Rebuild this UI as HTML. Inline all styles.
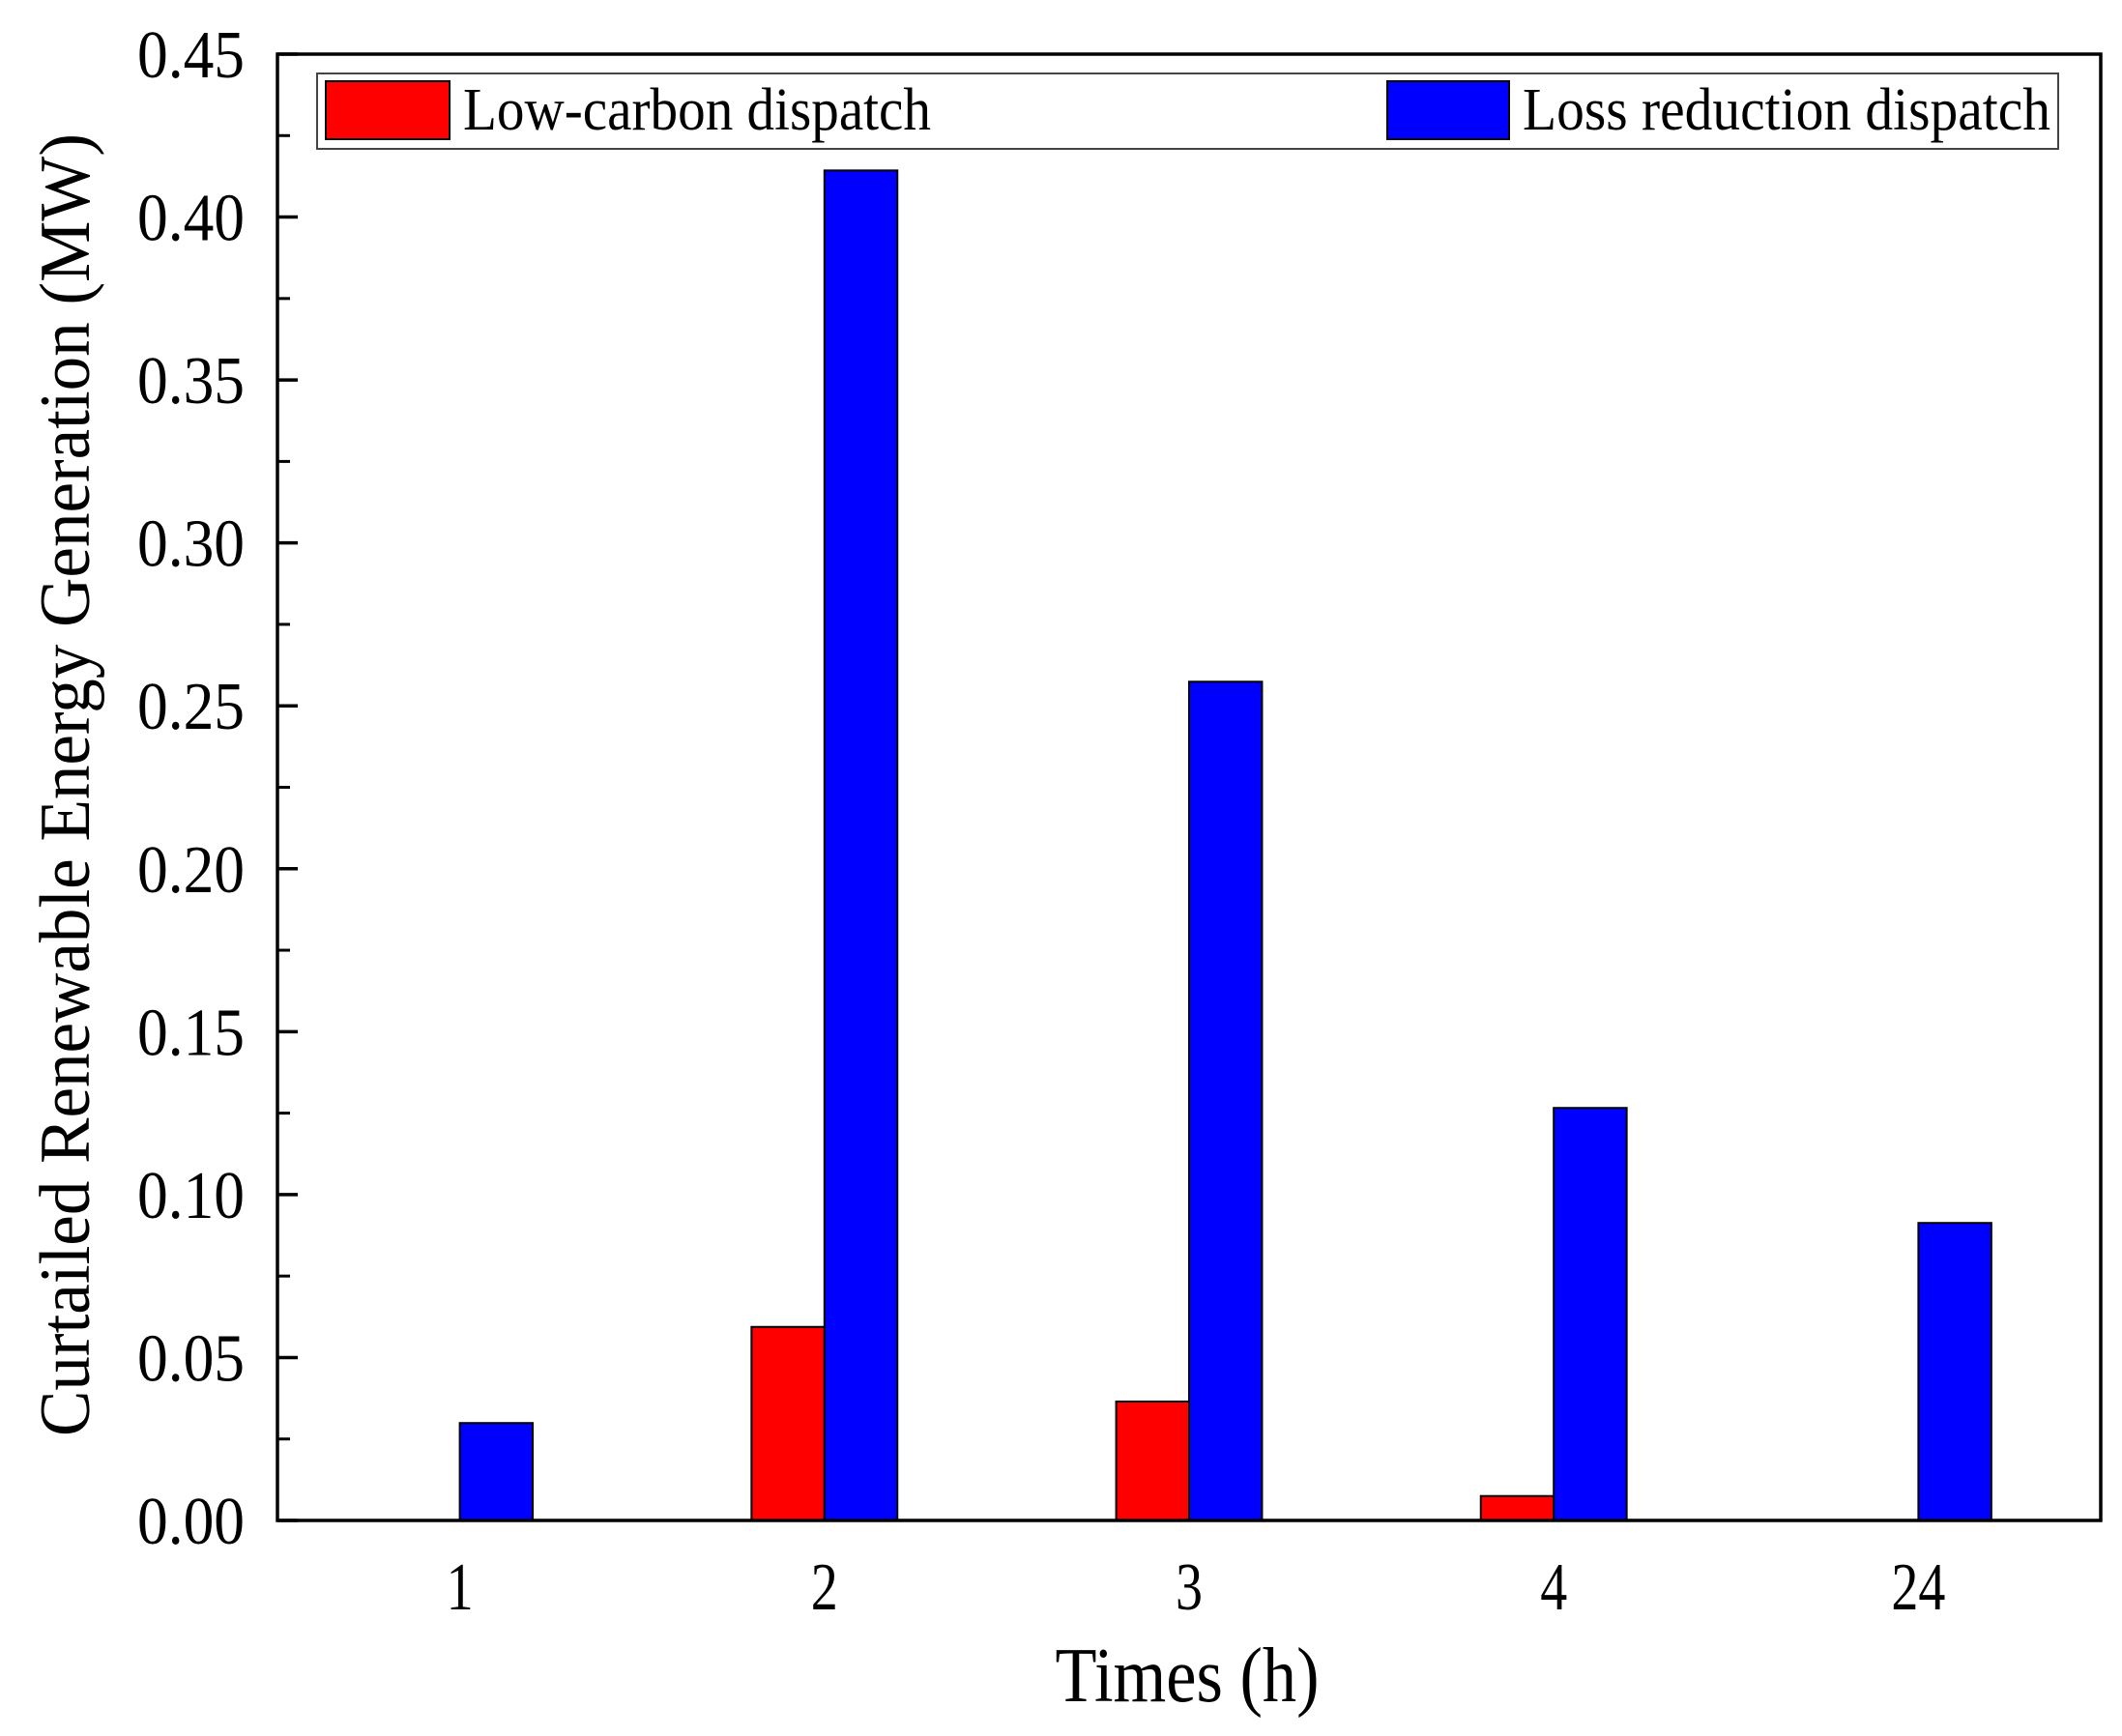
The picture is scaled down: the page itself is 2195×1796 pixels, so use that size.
<!DOCTYPE html>
<html><head><meta charset="utf-8"><style>
html,body{margin:0;padding:0;background:#fff;}
svg{display:block;font-family:"Liberation Serif",serif;}
</style></head><body>
<svg id="chart" width="2195" height="1796" viewBox="0 0 2195 1796" xmlns="http://www.w3.org/2000/svg">
<g id="bars"></g>
<g id="axes"></g>
<g>
  <rect x="328" y="76" width="1801" height="78" fill="#fff" stroke="#444" stroke-width="2"/>
  <rect x="337" y="84" width="128" height="60" fill="#ff0000" stroke="#000" stroke-width="2"/>
  <text x="479" y="134" font-size="62" textLength="484" lengthAdjust="spacingAndGlyphs">Low-carbon dispatch</text>
  <rect x="1435" y="84" width="126" height="60" fill="#0000ff" stroke="#000" stroke-width="2"/>
  <text x="1575" y="134" font-size="62" textLength="546" lengthAdjust="spacingAndGlyphs">Loss reduction dispatch</text>
</g>
<text x="1228" y="1760" font-size="80" text-anchor="middle" textLength="273" lengthAdjust="spacingAndGlyphs">Times (h)</text>
<text transform="translate(92,812) rotate(-90)" font-size="74" text-anchor="middle" textLength="1348" lengthAdjust="spacingAndGlyphs">Curtailed Renewable Energy Generation (MW)</text>
</svg>
<script>
const categories = ["1", "2", "3", "4", "24"];
const lowCarbon = [0, 0.0594, 0.0365, 0.0075, 0];
const lossReduction = [0.0299, 0.4143, 0.2574, 0.1266, 0.0913];
const yTicks = [0, 0.05, 0.10, 0.15, 0.20, 0.25, 0.30, 0.35, 0.40, 0.45];
const yTickLabels = ["0.00","0.05","0.10","0.15","0.20","0.25","0.30","0.35","0.40","0.45"];

const NS = "http://www.w3.org/2000/svg";
const L = 287, R = 2173, T = 56, B = 1573, YMAX = 0.45;
const slot = (R - L) / categories.length;
const barW = slot * 0.2;
function xCenter(i){ return L + (i + 0.5) * slot; }
function y(v){ return B - (v / YMAX) * (B - T); }
function mk(tag, attrs, parent){
  const e = document.createElementNS(NS, tag);
  for (const k in attrs) e.setAttribute(k, attrs[k]);
  parent.appendChild(e);
  return e;
}
const barsG = document.getElementById("bars");
const axesG = document.getElementById("axes");

categories.forEach((c, i) => {
  const cx = xCenter(i);
  const rv = lowCarbon[i];
  const r = mk("rect", {x: cx - barW, y: y(rv), width: barW, height: Math.max(0, B - y(rv)), fill: "#ff0000", stroke: "#000", "stroke-width": 2}, barsG);
  
  
  const bv = lossReduction[i];
  const b = mk("rect", {x: cx, y: y(bv), width: barW, height: Math.max(0, B - y(bv)), fill: "#0000ff", stroke: "#000", "stroke-width": 2}, barsG);
  
  
  const t = mk("text", {x: cx, y: 1665, "font-size": 70, "text-anchor": "middle", "textLength": c.length * 28, "lengthAdjust": "spacingAndGlyphs"}, axesG);
  t.textContent = c;
  
  
});

const frame = mk("rect", {x: L, y: T, width: R - L, height: B - T, fill: "none", stroke: "#000", "stroke-width": 3.5}, axesG);



yTicks.forEach((v, i) => {
  const yy = y(v);
  const tk = mk("line", {x1: L, x2: L + 21, y1: yy, y2: yy, stroke: "#000", "stroke-width": 3.5}, axesG);
  
  
  const lb = mk("text", {x: 253, y: yy + 24, "font-size": 70, "text-anchor": "end", "textLength": 111, "lengthAdjust": "spacingAndGlyphs"}, axesG);
  lb.textContent = yTickLabels[i];
  
  
  if (i < yTicks.length - 1) {
    const ym = y(v + 0.025);
    const mt = mk("line", {x1: L, x2: L + 13, y1: ym, y2: ym, stroke: "#000", "stroke-width": 3}, axesG);
    
    
  }
});
</script>
</body></html>
